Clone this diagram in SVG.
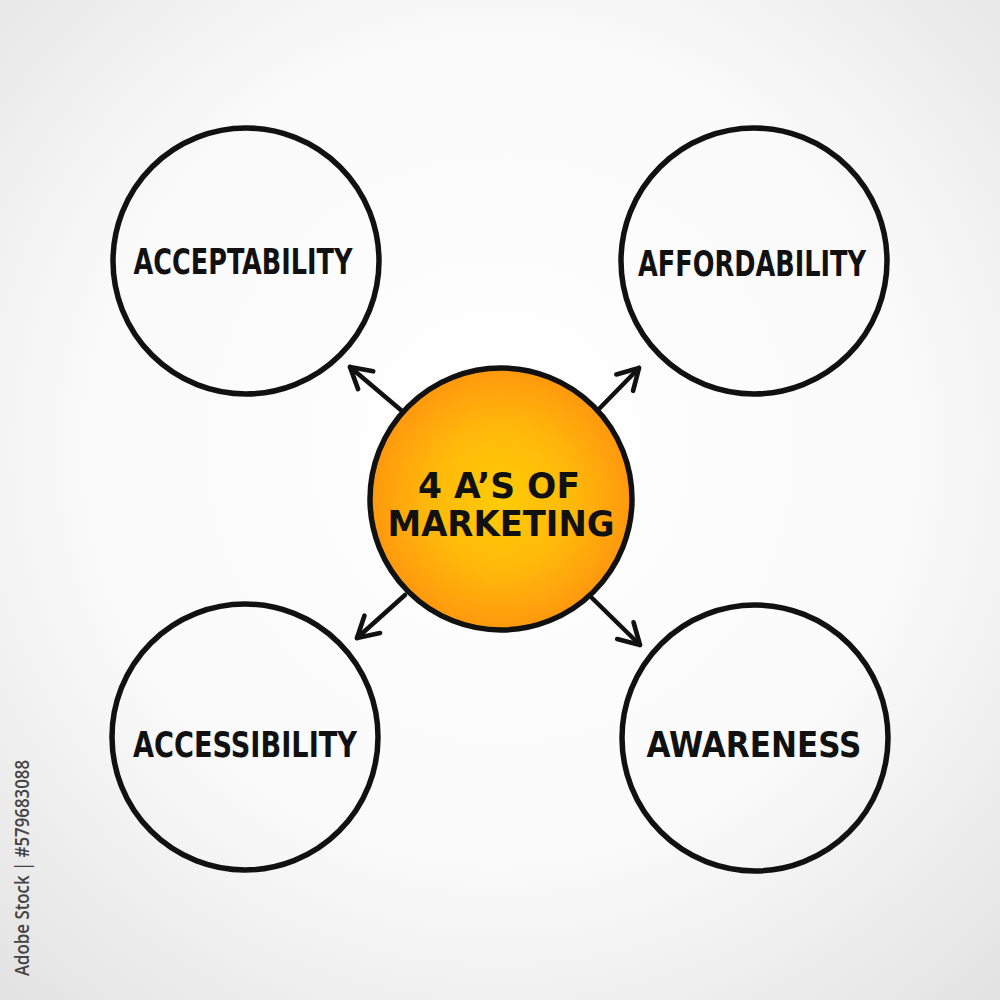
<svg xmlns="http://www.w3.org/2000/svg" width="1000" height="1000" viewBox="0 0 1000 1000">
<defs>
<radialGradient id="bg" cx="50%" cy="45%" r="75%">
<stop offset="0" stop-color="#ffffff"/>
<stop offset="0.55" stop-color="#fafafa"/>
<stop offset="1" stop-color="#e2e2e2"/>
</radialGradient>
<radialGradient id="orange" cx="50%" cy="50%" r="50%">
<stop offset="0" stop-color="#ffcc06"/>
<stop offset="0.55" stop-color="#ffb80a"/>
<stop offset="1" stop-color="#ff980e"/>
</radialGradient>
<marker id="ah" viewBox="0 0 20 20" refX="16" refY="10" markerWidth="6.5" markerHeight="6.5" orient="auto" markerUnits="strokeWidth">
<path d="M2,2 L16,10 L2,18" fill="none" stroke="#111" stroke-width="3.2" stroke-linecap="round" stroke-linejoin="round"/>
</marker>
<style>
.ring{fill:none;stroke:#111;stroke-width:5.5}
.lbl{font-family:"DejaVu Sans Condensed","DejaVu Sans",sans-serif;font-weight:bold;font-size:36px;fill:#111;text-anchor:middle}
.conn{stroke:#111;stroke-width:4.5;fill:none;stroke-linecap:round}
</style>
</defs>
<rect width="1000" height="1000" fill="url(#bg)"/>
<g id="connectors">
<line class="conn" x1="402" y1="411" x2="350" y2="367" marker-end="url(#ah)"/>
<line class="conn" x1="597" y1="411" x2="639" y2="368" marker-end="url(#ah)"/>
<line class="conn" x1="405" y1="595" x2="357" y2="638" marker-end="url(#ah)"/>
<line class="conn" x1="592" y1="598" x2="640" y2="645" marker-end="url(#ah)"/>
</g>
<g id="node-center">
<circle cx="501" cy="499" r="131" fill="url(#orange)" stroke="#111" stroke-width="5.5"/>
<text class="lbl" x="499" y="498" textLength="162" lengthAdjust="spacingAndGlyphs">4 A’S OF</text>
<text class="lbl" x="501" y="536" textLength="227" lengthAdjust="spacingAndGlyphs">MARKETING</text>
</g>
<g id="node-acceptability">
<circle class="ring" cx="246" cy="261" r="133"/>
<text class="lbl" x="243" y="274" textLength="219" lengthAdjust="spacingAndGlyphs">ACCEPTABILITY</text>
</g>
<g id="node-affordability">
<circle class="ring" cx="754" cy="261" r="133"/>
<text class="lbl" x="752" y="276" textLength="228" lengthAdjust="spacingAndGlyphs">AFFORDABILITY</text>
</g>
<g id="node-accessibility">
<circle class="ring" cx="245" cy="737" r="133"/>
<text class="lbl" x="245" y="757" textLength="224" lengthAdjust="spacingAndGlyphs">ACCESSIBILITY</text>
</g>
<g id="node-awareness">
<circle class="ring" cx="755" cy="738" r="133"/>
<text class="lbl" x="754" y="757" textLength="215" lengthAdjust="spacingAndGlyphs">AWARENESS</text>
</g>
<text x="29" y="976" transform="rotate(-90 29 976)" font-family="'Open Sans','Noto Sans',sans-serif" font-weight="600" font-size="19" fill="#444" textLength="216" lengthAdjust="spacingAndGlyphs">Adobe Stock | #579683088</text>
</svg>
